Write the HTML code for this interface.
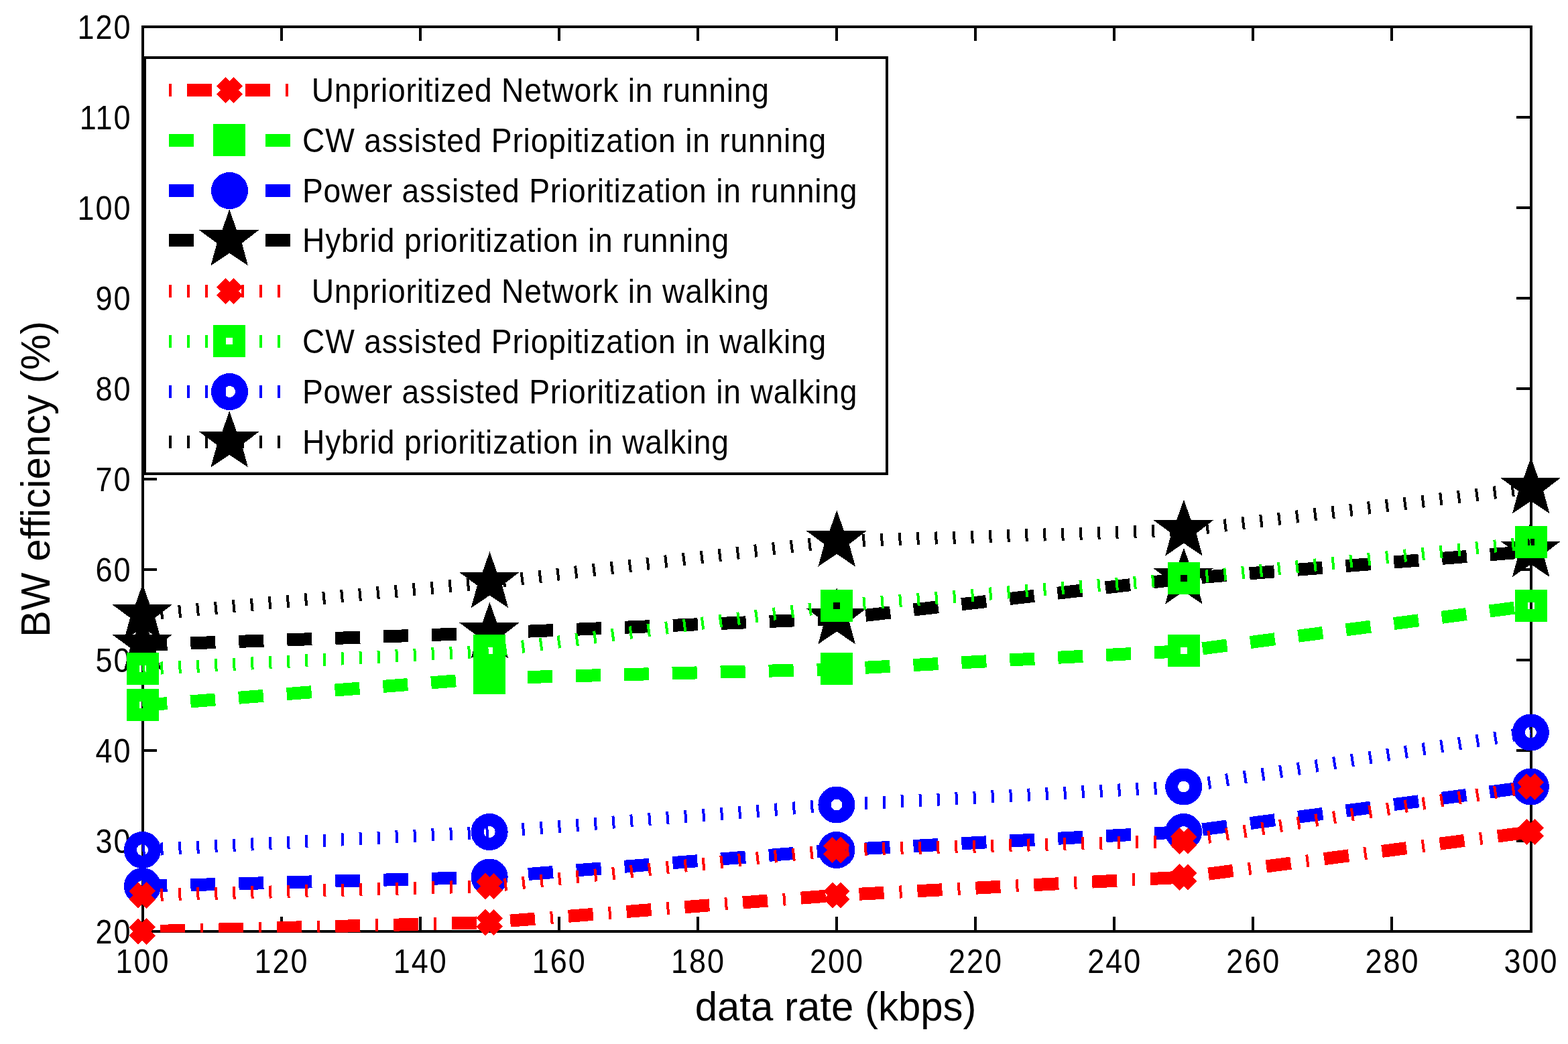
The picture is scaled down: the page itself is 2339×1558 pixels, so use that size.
<!DOCTYPE html>
<html lang="en"><head><meta charset="utf-8">
<title>BW efficiency vs data rate</title>
<style>
html,body{margin:0;padding:0;background:#fff;}
body{width:2339px;height:1558px;overflow:hidden;}
svg{display:block;}
text{font-family:"Liberation Sans",sans-serif;fill:#000;}
.t{font-size:50px;letter-spacing:2.2px;}
.l{font-size:61px;}
.g{font-size:50.5px;letter-spacing:0.88px;}
</style></head><body>
<svg width="2339" height="1558" viewBox="0 0 2339 1558" role="img" aria-label="BW efficiency (%) versus data rate (kbps)">
<rect x="0" y="0" width="2339" height="1558" fill="#fff"/>
<defs><clipPath id="ax"><rect x="212" y="38" width="2074" height="1353.5"/></clipPath></defs>
<g shape-rendering="crispEdges" stroke="#000" stroke-width="4" fill="none">
<rect x="213" y="40" width="2071" height="1350"/>
<path d="M420 1390v-22M420 40v21M627 1390v-22M627 40v21M834 1390v-22M834 40v21M1041 1390v-22M1041 40v21M1248 1390v-22M1248 40v21M1455 1390v-22M1455 40v21M1662 1390v-22M1662 40v21M1869 1390v-22M1869 40v21M2076 1390v-22M2076 40v21M213 1255h21M2284 1255h-22M213 1120h21M2284 1120h-22M213 985h21M2284 985h-22M213 850h21M2284 850h-22M213 715h21M2284 715h-22M213 580h21M2284 580h-22M213 445h21M2284 445h-22M213 310h21M2284 310h-22M213 175h21M2284 175h-22"/>
</g>
<g class="t" text-anchor="end">
<text transform="translate(196.5 1408) scale(0.9 1)">20</text>
<text transform="translate(196.5 1273) scale(0.9 1)">30</text>
<text transform="translate(196.5 1138) scale(0.9 1)">40</text>
<text transform="translate(196.5 1003) scale(0.9 1)">50</text>
<text transform="translate(196.5 868) scale(0.9 1)">60</text>
<text transform="translate(196.5 733) scale(0.9 1)">70</text>
<text transform="translate(196.5 598) scale(0.9 1)">80</text>
<text transform="translate(196.5 463) scale(0.9 1)">90</text>
<text transform="translate(196.5 328) scale(0.9 1)">100</text>
<text transform="translate(196.5 193) scale(0.9 1)">110</text>
<text transform="translate(196.5 58) scale(0.9 1)">120</text>
</g>
<g class="t" text-anchor="middle">
<text transform="translate(213 1452) scale(0.9 1)">100</text>
<text transform="translate(420.1 1452) scale(0.9 1)">120</text>
<text transform="translate(627.2 1452) scale(0.9 1)">140</text>
<text transform="translate(834.3 1452) scale(0.9 1)">160</text>
<text transform="translate(1041.4 1452) scale(0.9 1)">180</text>
<text transform="translate(1248.5 1452) scale(0.9 1)">200</text>
<text transform="translate(1455.6 1452) scale(0.9 1)">220</text>
<text transform="translate(1662.7 1452) scale(0.9 1)">240</text>
<text transform="translate(1869.8 1452) scale(0.9 1)">260</text>
<text transform="translate(2076.9 1452) scale(0.9 1)">280</text>
<text transform="translate(2284 1452) scale(0.9 1)">300</text>
</g>
<text class="l" text-anchor="middle" transform="translate(1246.6 1523) scale(0.983 1)">data rate (kbps)</text>
<text class="l" text-anchor="middle" transform="translate(74 715) rotate(-90) scale(0.983 1)">BW efficiency (%)</text>
<g id="run_red" shape-rendering="crispEdges">
<g clip-path="url(#ax)"><path d="M212.4 1390L730.15 1376.5L1247.9 1336L1765.65 1309L2283.4 1241.5" stroke="#ff0000" stroke-width="19" fill="none" stroke-dasharray="4 23 37 23" stroke-dashoffset="0"/></g>
<path d="M199.55 1377.15L225.25 1402.85M199.55 1402.85L225.25 1377.15" stroke="#ff0000" stroke-width="19.2" fill="none"/>
<path d="M717.3 1363.65L743 1389.35M717.3 1389.35L743 1363.65" stroke="#ff0000" stroke-width="19.2" fill="none"/>
<path d="M1235.05 1323.15L1260.75 1348.85M1235.05 1348.85L1260.75 1323.15" stroke="#ff0000" stroke-width="19.2" fill="none"/>
<path d="M1752.8 1296.15L1778.5 1321.85M1752.8 1321.85L1778.5 1296.15" stroke="#ff0000" stroke-width="19.2" fill="none"/>
<path d="M2270.55 1228.65L2296.25 1254.35M2270.55 1254.35L2296.25 1228.65" stroke="#ff0000" stroke-width="19.2" fill="none"/>
</g>
<g id="run_green" shape-rendering="crispEdges">
<g clip-path="url(#ax)"><path d="M212.4 1052.5L730.15 1012L1247.9 998.5L1765.65 971.5L2283.4 904" stroke="#00ff00" stroke-width="19" fill="none" stroke-dasharray="37 35" stroke-dashoffset="0"/></g>
<rect x="198.5" y="1037.5" width="29" height="29" stroke="#00ff00" stroke-width="19" fill="none" shape-rendering="crispEdges"/>
<rect x="715.5" y="997.5" width="29" height="29" stroke="#00ff00" stroke-width="19" fill="none" shape-rendering="crispEdges"/>
<rect x="1233.5" y="983.5" width="29" height="29" stroke="#00ff00" stroke-width="19" fill="none" shape-rendering="crispEdges"/>
<rect x="1751.5" y="956.5" width="29" height="29" stroke="#00ff00" stroke-width="19" fill="none" shape-rendering="crispEdges"/>
<rect x="2269.5" y="889.5" width="29" height="29" stroke="#00ff00" stroke-width="19" fill="none" shape-rendering="crispEdges"/>
</g>
<g id="run_blue" shape-rendering="crispEdges">
<g clip-path="url(#ax)"><path d="M212.4 1322.5L730.15 1309L1247.9 1268.5L1765.65 1241.5L2283.4 1174" stroke="#0000ff" stroke-width="19" fill="none" stroke-dasharray="37 35" stroke-dashoffset="0"/></g>
<circle cx="212.4" cy="1322.5" r="18" stroke="#0000ff" stroke-width="19" fill="none"/>
<circle cx="730.15" cy="1309" r="18" stroke="#0000ff" stroke-width="19" fill="none"/>
<circle cx="1247.9" cy="1268.5" r="18" stroke="#0000ff" stroke-width="19" fill="none"/>
<circle cx="1765.65" cy="1241.5" r="18" stroke="#0000ff" stroke-width="19" fill="none"/>
<circle cx="2283.4" cy="1174" r="18" stroke="#0000ff" stroke-width="19" fill="none"/>
</g>
<g id="run_black" shape-rendering="crispEdges">
<g clip-path="url(#ax)"><path d="M212.4 962.32L730.15 944.5L1247.9 923.31L1765.65 863.5L2283.4 823" stroke="#000000" stroke-width="19" fill="none" stroke-dasharray="37 35" stroke-dashoffset="0"/></g>
<polygon points="212.7,916.32 223.5,946.92 257,946.92 231.3,966.72 240.5,1000.32 212.7,981.52 184.9,1000.32 194.1,966.72 167.2,946.92 201.9,946.92" fill="#000000"/>
<polygon points="730.45,898.5 741.25,929.1 774.75,929.1 749.05,948.9 758.25,982.5 730.45,963.7 702.65,982.5 711.85,948.9 684.95,929.1 719.65,929.1" fill="#000000"/>
<polygon points="1248.2,877.31 1259,907.91 1292.5,907.91 1266.8,927.71 1276,961.31 1248.2,942.51 1220.4,961.31 1229.6,927.71 1202.7,907.91 1237.4,907.91" fill="#000000"/>
<polygon points="1765.95,817.5 1776.75,848.1 1810.25,848.1 1784.55,867.9 1793.75,901.5 1765.95,882.7 1738.15,901.5 1747.35,867.9 1720.45,848.1 1755.15,848.1" fill="#000000"/>
<polygon points="2283.7,777 2294.5,807.6 2328,807.6 2302.3,827.4 2311.5,861 2283.7,842.2 2255.9,861 2265.1,827.4 2238.2,807.6 2272.9,807.6" fill="#000000"/>
</g>
<g id="walk_red" shape-rendering="crispEdges">
<g clip-path="url(#ax)"><path d="M212.4 1336L730.15 1322.5L1247.9 1268.5L1765.65 1255L2283.4 1174" stroke="#ff0000" stroke-width="19" fill="none" stroke-dasharray="4 23" stroke-dashoffset="0"/></g>
<path d="M199.55 1323.15L225.25 1348.85M199.55 1348.85L225.25 1323.15" stroke="#ff0000" stroke-width="19.2" fill="none"/>
<path d="M717.3 1309.65L743 1335.35M717.3 1335.35L743 1309.65" stroke="#ff0000" stroke-width="19.2" fill="none"/>
<path d="M1235.05 1255.65L1260.75 1281.35M1235.05 1281.35L1260.75 1255.65" stroke="#ff0000" stroke-width="19.2" fill="none"/>
<path d="M1752.8 1242.15L1778.5 1267.85M1752.8 1267.85L1778.5 1242.15" stroke="#ff0000" stroke-width="19.2" fill="none"/>
<path d="M2270.55 1161.15L2296.25 1186.85M2270.55 1186.85L2296.25 1161.15" stroke="#ff0000" stroke-width="19.2" fill="none"/>
</g>
<g id="walk_green" shape-rendering="crispEdges">
<g clip-path="url(#ax)"><path d="M212.4 998.5L730.15 971.5L1247.9 904L1765.65 863.5L2283.4 809.5" stroke="#00ff00" stroke-width="19" fill="none" stroke-dasharray="4 23" stroke-dashoffset="0"/></g>
<rect x="198.5" y="983.5" width="29" height="29" stroke="#00ff00" stroke-width="19" fill="none" shape-rendering="crispEdges"/>
<rect x="715.5" y="956.5" width="29" height="29" stroke="#00ff00" stroke-width="19" fill="none" shape-rendering="crispEdges"/>
<rect x="1233.5" y="889.5" width="29" height="29" stroke="#00ff00" stroke-width="19" fill="none" shape-rendering="crispEdges"/>
<rect x="1751.5" y="848.5" width="29" height="29" stroke="#00ff00" stroke-width="19" fill="none" shape-rendering="crispEdges"/>
<rect x="2269.5" y="794.5" width="29" height="29" stroke="#00ff00" stroke-width="19" fill="none" shape-rendering="crispEdges"/>
</g>
<g id="walk_blue" shape-rendering="crispEdges">
<g clip-path="url(#ax)"><path d="M212.4 1268.5L730.15 1241.5L1247.9 1201L1765.65 1174L2283.4 1093" stroke="#0000ff" stroke-width="19" fill="none" stroke-dasharray="4 23" stroke-dashoffset="0"/></g>
<circle cx="212.4" cy="1268.5" r="18" stroke="#0000ff" stroke-width="19" fill="none"/>
<circle cx="730.15" cy="1241.5" r="18" stroke="#0000ff" stroke-width="19" fill="none"/>
<circle cx="1247.9" cy="1201" r="18" stroke="#0000ff" stroke-width="19" fill="none"/>
<circle cx="1765.65" cy="1174" r="18" stroke="#0000ff" stroke-width="19" fill="none"/>
<circle cx="2283.4" cy="1093" r="18" stroke="#0000ff" stroke-width="19" fill="none"/>
</g>
<g id="walk_black" shape-rendering="crispEdges">
<g clip-path="url(#ax)"><path d="M212.4 917.5L730.15 869.3L1247.9 807.61L1765.65 791.54L2283.4 728.5" stroke="#000000" stroke-width="19" fill="none" stroke-dasharray="4 23" stroke-dashoffset="0"/></g>
<polygon points="212.7,871.5 223.5,902.1 257,902.1 231.3,921.9 240.5,955.5 212.7,936.7 184.9,955.5 194.1,921.9 167.2,902.1 201.9,902.1" fill="#000000"/>
<polygon points="730.45,823.3 741.25,853.9 774.75,853.9 749.05,873.7 758.25,907.3 730.45,888.5 702.65,907.3 711.85,873.7 684.95,853.9 719.65,853.9" fill="#000000"/>
<polygon points="1248.2,761.61 1259,792.21 1292.5,792.21 1266.8,812.01 1276,845.61 1248.2,826.81 1220.4,845.61 1229.6,812.01 1202.7,792.21 1237.4,792.21" fill="#000000"/>
<polygon points="1765.95,745.54 1776.75,776.14 1810.25,776.14 1784.55,795.94 1793.75,829.54 1765.95,810.75 1738.15,829.54 1747.35,795.94 1720.45,776.14 1755.15,776.14" fill="#000000"/>
<polygon points="2283.7,682.5 2294.5,713.1 2328,713.1 2302.3,732.9 2311.5,766.5 2283.7,747.7 2255.9,766.5 2265.1,732.9 2238.2,713.1 2272.9,713.1" fill="#000000"/>
</g>
<g id="legend" shape-rendering="crispEdges">
<rect x="216" y="86" width="1107" height="621" fill="#fff" stroke="#000" stroke-width="4" shape-rendering="crispEdges"/>
<path d="M252 134.5L433.5 134.5" stroke="#ff0000" stroke-width="19" fill="none" stroke-dasharray="4 23 37 23" stroke-dashoffset="0"/>
<path d="M329.65 121.65L355.35 147.35M329.65 147.35L355.35 121.65" stroke="#ff0000" stroke-width="19.2" fill="none"/>
<text class="g" transform="translate(451 151.9) scale(0.915 1)" xml:space="preserve"> Unprioritized Network in running</text>
<path d="M252 209.5L433.5 209.5" stroke="#00ff00" stroke-width="19" fill="none" stroke-dasharray="37 35" stroke-dashoffset="0"/>
<rect x="327.5" y="194.5" width="29" height="29" stroke="#00ff00" stroke-width="19" fill="none" shape-rendering="crispEdges"/>
<text class="g" transform="translate(451 226.9) scale(0.915 1)" xml:space="preserve">CW assisted Priopitization in running</text>
<path d="M252 284.5L433.5 284.5" stroke="#0000ff" stroke-width="19" fill="none" stroke-dasharray="37 35" stroke-dashoffset="0"/>
<circle cx="342.5" cy="284.5" r="18" stroke="#0000ff" stroke-width="19" fill="none"/>
<text class="g" transform="translate(451 301.9) scale(0.915 1)" xml:space="preserve">Power assisted Prioritization in running</text>
<path d="M252 358.5L433.5 358.5" stroke="#000000" stroke-width="19" fill="none" stroke-dasharray="37 35" stroke-dashoffset="0"/>
<polygon points="342.2,312.5 353,343.1 386.5,343.1 360.8,362.9 370,396.5 342.2,377.7 314.4,396.5 323.6,362.9 296.7,343.1 331.4,343.1" fill="#000000"/>
<text class="g" transform="translate(451 375.9) scale(0.915 1)" xml:space="preserve">Hybrid prioritization in running</text>
<path d="M252 434.5L433.5 434.5" stroke="#ff0000" stroke-width="19" fill="none" stroke-dasharray="4 23" stroke-dashoffset="0"/>
<path d="M329.65 421.65L355.35 447.35M329.65 447.35L355.35 421.65" stroke="#ff0000" stroke-width="19.2" fill="none"/>
<text class="g" transform="translate(451 451.9) scale(0.915 1)" xml:space="preserve"> Unprioritized Network in walking</text>
<path d="M252 509.5L433.5 509.5" stroke="#00ff00" stroke-width="19" fill="none" stroke-dasharray="4 23" stroke-dashoffset="0"/>
<rect x="327.5" y="494.5" width="29" height="29" stroke="#00ff00" stroke-width="19" fill="none" shape-rendering="crispEdges"/>
<text class="g" transform="translate(451 526.9) scale(0.915 1)" xml:space="preserve">CW assisted Priopitization in walking</text>
<path d="M252 584.5L433.5 584.5" stroke="#0000ff" stroke-width="19" fill="none" stroke-dasharray="4 23" stroke-dashoffset="0"/>
<circle cx="342.5" cy="584.5" r="18" stroke="#0000ff" stroke-width="19" fill="none"/>
<text class="g" transform="translate(451 601.9) scale(0.915 1)" xml:space="preserve">Power assisted Prioritization in walking</text>
<path d="M252 659.5L433.5 659.5" stroke="#000000" stroke-width="19" fill="none" stroke-dasharray="4 23" stroke-dashoffset="0"/>
<polygon points="342.2,613.5 353,644.1 386.5,644.1 360.8,663.9 370,697.5 342.2,678.7 314.4,697.5 323.6,663.9 296.7,644.1 331.4,644.1" fill="#000000"/>
<text class="g" transform="translate(451 676.9) scale(0.915 1)" xml:space="preserve">Hybrid prioritization in walking</text>
</g>
</svg>
</body></html>
